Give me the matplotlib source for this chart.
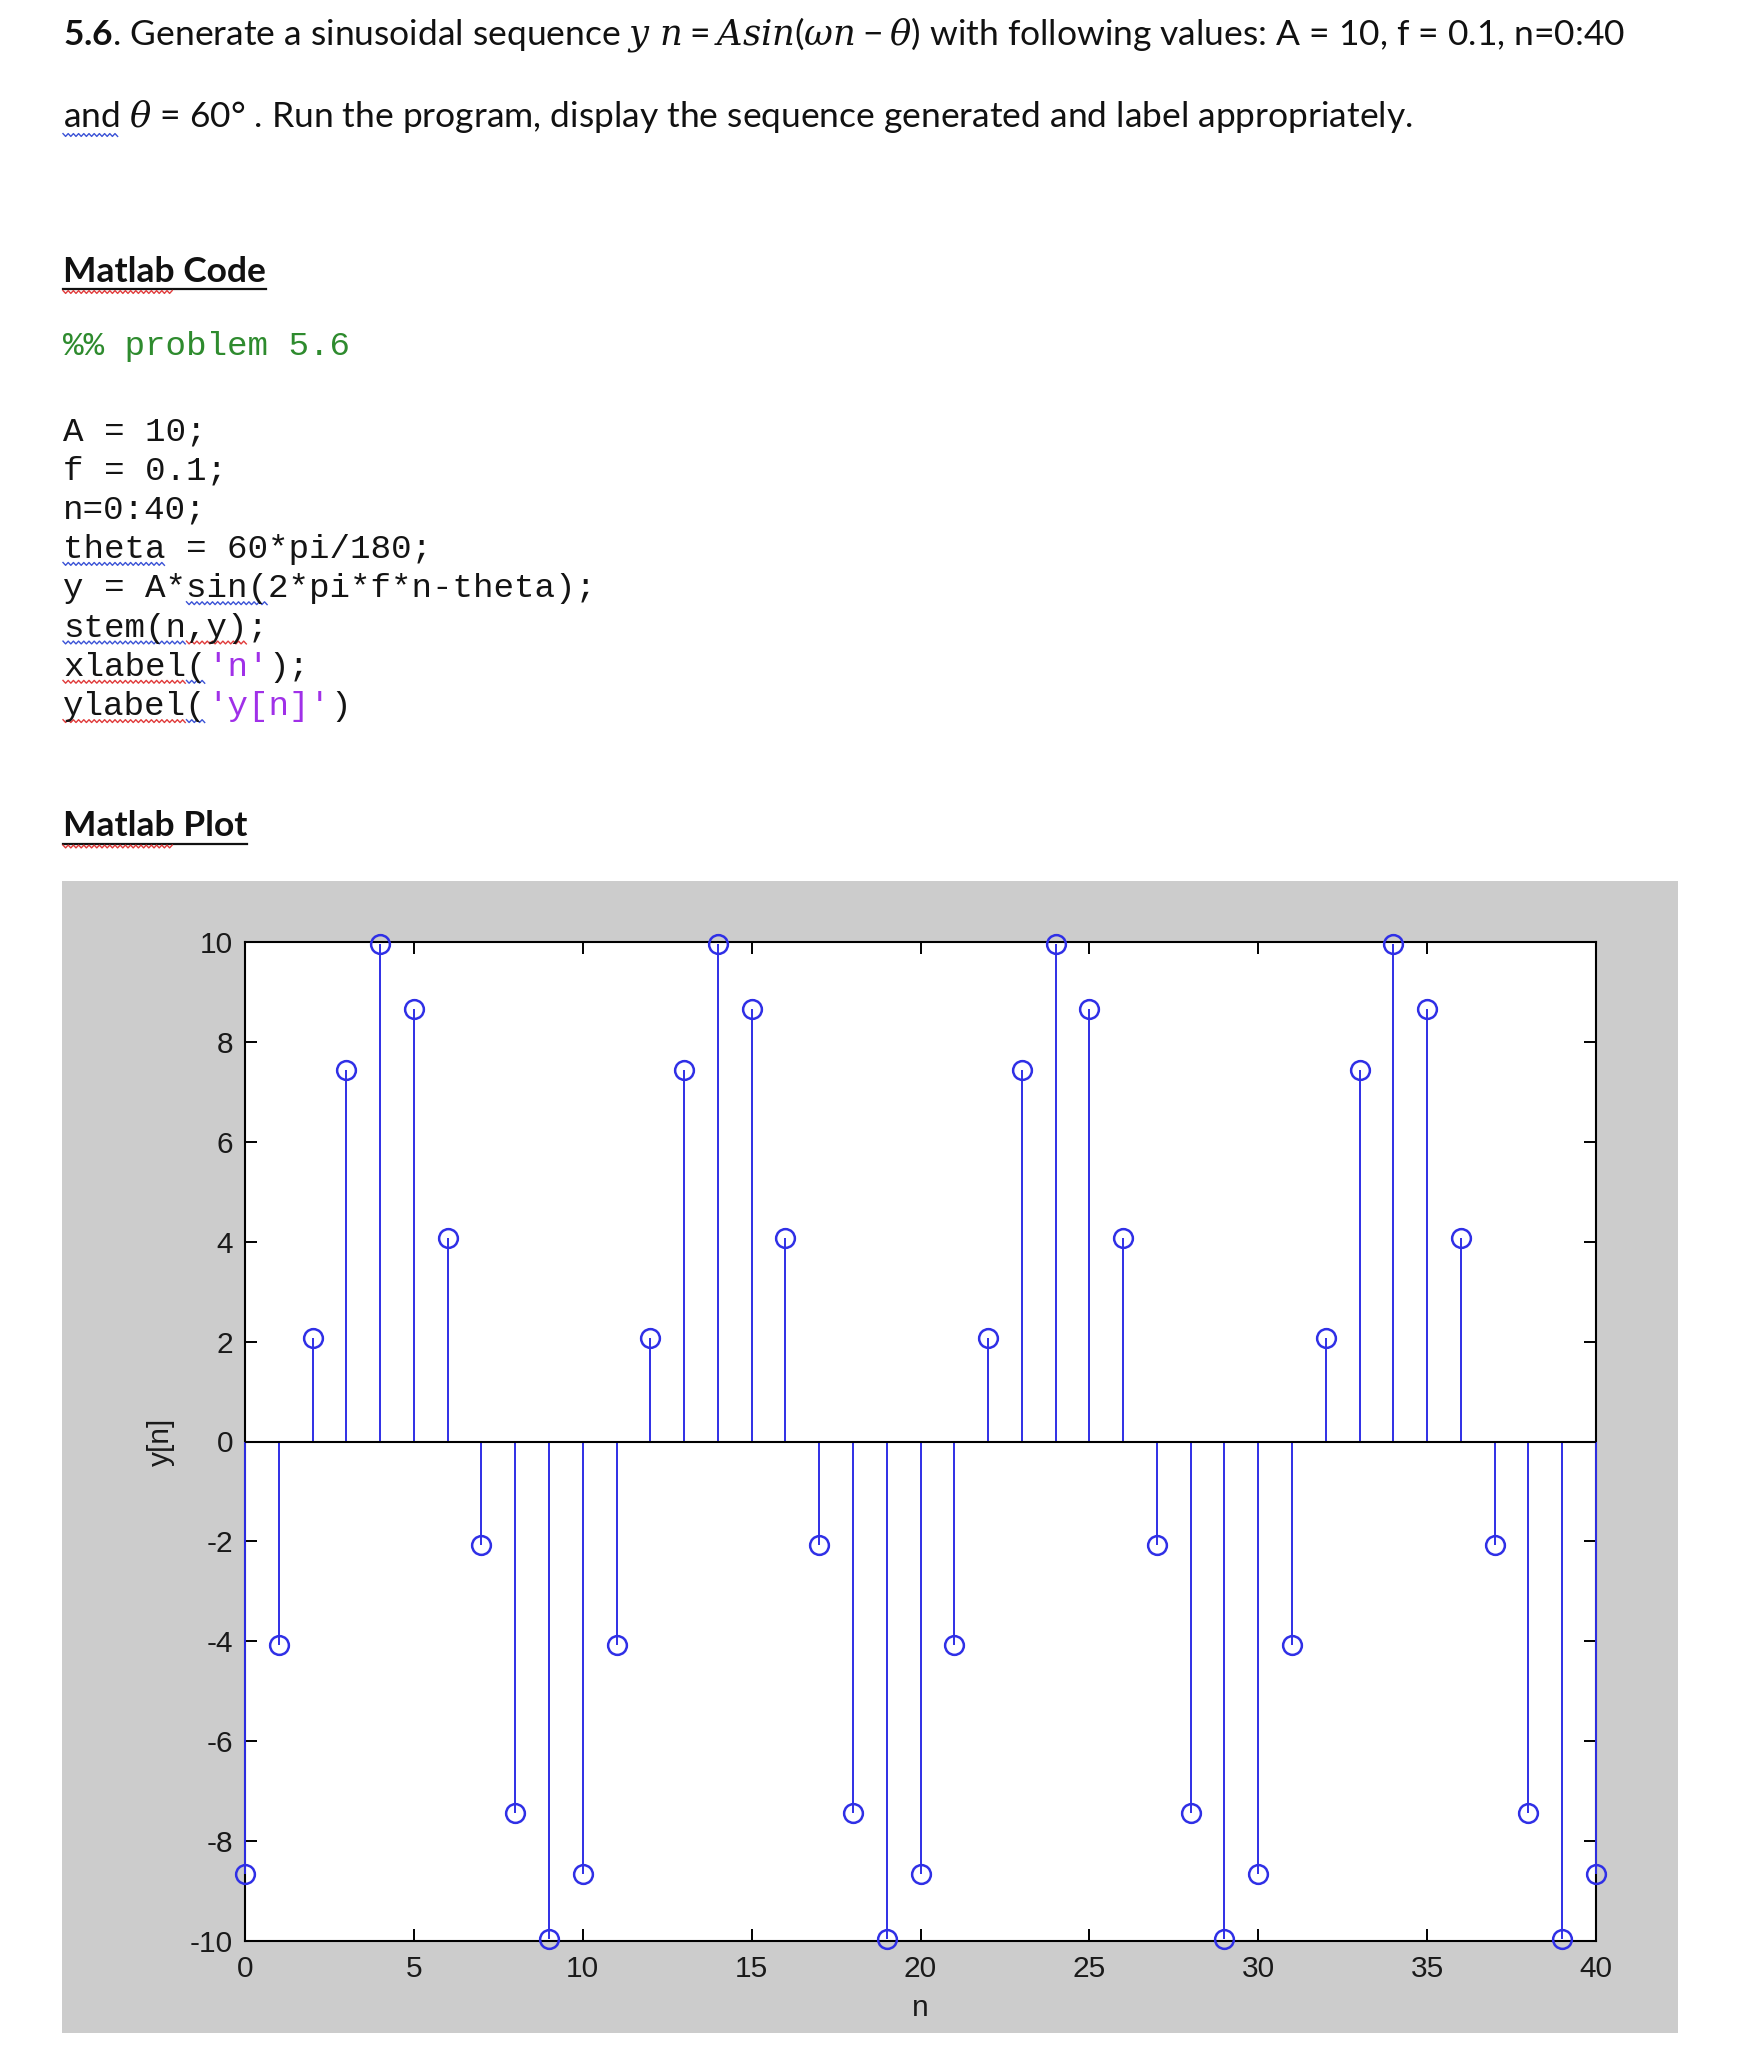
import numpy as np
import matplotlib
matplotlib.use("Agg")
import matplotlib.pyplot as plt
from matplotlib.patches import Rectangle

plt.rcParams['font.family'] = ['Liberation Sans', 'DejaVu Sans']
plt.rcParams['axes.unicode_minus'] = False
plt.rcParams['mathtext.fontset'] = 'custom'
plt.rcParams['mathtext.rm'] = 'Lato'
plt.rcParams['mathtext.it'] = 'DejaVu Serif:italic'
plt.rcParams['mathtext.bf'] = 'Lato:bold'

# --- data ---
n = list(range(0, 41))
y_n = [-8.66, -4.07, 2.08, 7.43, 9.95, 8.66, 4.07, -2.08, -7.43, -9.95,
       -8.66, -4.07, 2.08, 7.43, 9.95, 8.66, 4.07, -2.08, -7.43, -9.95,
       -8.66, -4.07, 2.08, 7.43, 9.95, 8.66, 4.07, -2.08, -7.43, -9.95,
       -8.66, -4.07, 2.08, 7.43, 9.95, 8.66, 4.07, -2.08, -7.43, -9.95,
       -8.66]
x_ticks = [0, 5, 10, 15, 20, 25, 30, 35, 40]
y_ticks = [-10, -8, -6, -4, -2, 0, 2, 4, 6, 8, 10]

# --- page text ---
question_1 = (r"$\mathbf{5.6}$. Generate a sinusoidal sequence "
              r"$y\ n = Asin(\omega n - \theta)$ with following values: "
              r"A = 10, f = 0.1, n=0:40")
question_2 = r"and $\theta$ = 60° . Run the program, display the sequence generated and label appropriately."
heading_code = "Matlab Code"
heading_plot = "Matlab Plot"
comment_line = "%% problem 5.6"

CODE = '#141414'
STR = '#a030e8'
GREEN = '#2e8b2e'
code_lines = [
    [("A = 10;", CODE)],
    [("f = 0.1;", CODE)],
    [("n=0:40;", CODE)],
    [("theta = 60*pi/180;", CODE)],
    [("y = A*sin(2*pi*f*n-theta);", CODE)],
    [("stem(n,y);", CODE)],
    [("xlabel(", CODE), ("'n'", STR), (");", CODE)],
    [("ylabel(", CODE), ("'y[n]'", STR), (")", CODE)],
]
# spell-check squiggles under code: (line, first col, last col, colour)
RED = '#e03a3a'
BLUE_SQ = '#3a52d6'
code_squiggles = [(3, 0, 5, BLUE_SQ), (4, 6, 10, BLUE_SQ),
                  (5, 0, 6, BLUE_SQ), (5, 6, 9, RED),
                  (6, 0, 6, RED), (6, 6, 7, BLUE_SQ),
                  (7, 0, 6, RED), (7, 6, 7, BLUE_SQ)]

W, H = 1759, 2046
fig = plt.figure(figsize=(W / 100, H / 100), dpi=100)
page = fig.add_axes([0, 0, 1, 1])
page.set_xlim(0, W)
page.set_ylim(H, 0)
page.axis('off')
renderer = fig.canvas.get_renderer()

TXT_FS = 25.5
CODE_FS = 24.7
X0 = 63


def span(t):
    bb = t.get_window_extent(renderer)
    return bb.x0, bb.x1


def squiggle(x0, x1, y, color):
    xs = np.arange(x0, x1 + 0.1, 2.6)
    ys = y + np.where(np.arange(len(xs)) % 2 == 0, -1.4, 1.4)
    page.plot(xs, ys, color=color, lw=1.0)


page.text(X0, 45, question_1, fontfamily='Lato', fontsize=TXT_FS, color='#111111', va='baseline')
page.text(X0, 127, question_2, fontfamily='Lato', fontsize=TXT_FS, color='#111111', va='baseline')
t_and = page.text(X0, 127, "and", fontfamily='Lato', fontsize=TXT_FS, alpha=0, va='baseline')
a0, a1 = span(t_and)
squiggle(a0, a1, 135, BLUE_SQ)

for label, base in [(heading_code, 281.5), (heading_plot, 836)]:
    t = page.text(X0, base, label, fontfamily='Lato', fontweight='bold', fontsize=TXT_FS,
                  color='#111111', va='baseline')
    h0, h1 = span(t)
    page.plot([h0, h1], [base + 7.5, base + 7.5], color='#111111', lw=1.6)
    tm = page.text(X0, base, "Matlab", fontfamily='Lato', fontweight='bold', fontsize=TXT_FS,
                   alpha=0, va='baseline')
    m0, m1 = span(tm)
    squiggle(m0, m1, base + 10.5, RED)

# code block, monospace columns
cw = 0.6 * CODE_FS * 100 / 72
page.text(X0, 355, comment_line, fontfamily='Liberation Mono', fontsize=CODE_FS, color=GREEN, va='baseline')
code_base = [440 + 39.3 * i for i in range(len(code_lines))]
for base, parts in zip(code_base, code_lines):
    col = 0
    for txt, colr in parts:
        page.text(X0 + col * cw, base, txt, fontfamily='Liberation Mono', fontsize=CODE_FS,
                  color=colr, va='baseline')
        col += len(txt)
for li, c0, c1, colr in code_squiggles:
    squiggle(X0 + c0 * cw, X0 + c1 * cw, code_base[li] + 6, colr)

# grey figure panel
page.add_patch(Rectangle((62, 881), 1616, 1152, facecolor='#cccccc', edgecolor='none'))

# --- the stem plot ---
ax = fig.add_axes([245 / W, 1 - 1941 / H, 1351 / W, 999 / H])
ax.set_facecolor('white')
STEM = '#2f2fe6'
markerline, stemlines, baseline = ax.stem(n, y_n, linefmt='-', markerfmt='o', basefmt='k-')
plt.setp(stemlines, color=STEM, linewidth=1.4, clip_on=False, zorder=2.6)
plt.setp(markerline, markerfacecolor='none', markeredgecolor=STEM, markersize=13.5,
         markeredgewidth=1.8, clip_on=False, zorder=3)
plt.setp(baseline, color='k', linewidth=1.5, zorder=2.7)

ax.set_xlim(0, 40)
ax.set_ylim(-10, 10)
ax.set_xticks(x_ticks)
ax.set_yticks(y_ticks)
for s in ax.spines.values():
    s.set_linewidth(1.5)
    s.set_color('k')
ax.tick_params(direction='in', length=8.5, width=1.4, top=True, right=True,
               color='k', labelcolor='#1a1a1a', labelsize=21.5)
ax.tick_params(axis='x', pad=10)
ax.tick_params(axis='y', pad=8.5)
ax.set_xlabel('n', fontsize=21.5, color='#1a1a1a')
ax.set_ylabel('y[n]', fontsize=21.5, color='#1a1a1a')
ax.xaxis.set_label_coords(0.5, -0.053)
ax.yaxis.set_label_coords(-0.0518, 0.5)

fig.savefig('out.png', dpi=100)
